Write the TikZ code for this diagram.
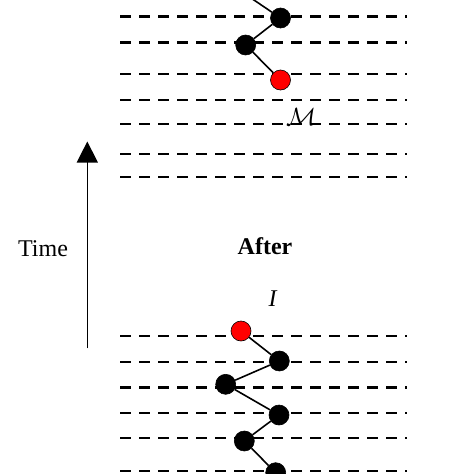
\documentclass[tikz,border=0pt]{standalone}
\usepackage{fontspec}
\setmainfont{Liberation Serif}
\usetikzlibrary{arrows.meta}
\begin{document}
\begin{tikzpicture}[x=1pt,y=-1pt,
  level/.style={line width=2.2pt, dash pattern=on 11pt off 8pt},
  bead/.style={circle, fill=black, draw=black, line width=0.6pt, minimum size=20pt, inner sep=0pt},
  redbead/.style={bead, fill=red},
  bond/.style={line width=1.6pt},
  lbl/.style={font=\fontsize{24}{28}\selectfont}]
\useasboundingbox (0,0) rectangle (474,474);
\clip (0,0) rectangle (474,474);
% dashed levels
\foreach \y in {16.5,42.5,74,100,124,154,177,336,362,387.5,413.3,438.3,470.7}
  \draw[level] (120,\y) -- (407,\y);
% top chain
\coordinate (t0) at (248,-4);
\node[bead] (t1) at (280.5,18) {};
\node[bead] (t2) at (245.7,45) {};
\node[redbead] (t3) at (280.5,80) {};
\draw[bond] (t0) -- (t1) -- (t2) -- (t3);
\node[lbl] (M) at (301,117) {$\mathcal{M}$};
% bottom chain
\node[redbead] (b1) at (241,331) {};
\node[bead] (b2) at (279.3,361) {};
\node[bead] (b3) at (225.7,384.3) {};
\node[bead] (b4) at (279,415) {};
\node[bead] (b5) at (244.3,441) {};
\node[bead] (b6) at (275.7,472.7) {};
\draw[bond] (b1) -- (b2) -- (b3) -- (b4) -- (b5) -- (b6);
\node[lbl] (I) at (273,299) {\textit{I}};
% time arrow
\coordinate (a0) at (87.3,348.3);
\coordinate (a1) at (87.3,141.5);
\draw[line width=1.4pt, -{Triangle[length=21pt,width=21pt]}] (a0) -- (a1);
\node[lbl] (time) at (43,249) {Time};
\node[lbl, font=\fontsize{24}{28}\selectfont\bfseries] (after) at (265,246) {After};
\end{tikzpicture}
\end{document}
